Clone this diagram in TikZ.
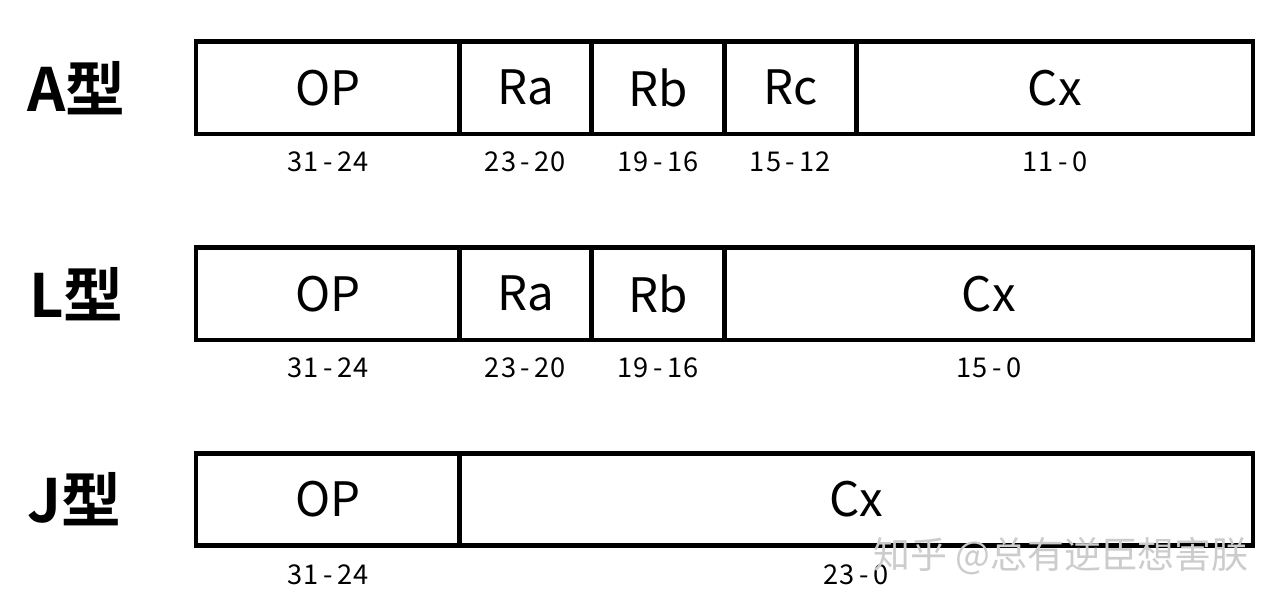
\documentclass[tikz,border=0pt]{standalone}
\usepackage{fontspec}
\setmainfont{Noto Sans CJK SC}[BoldFont={Noto Sans CJK SC Bold}]
\newfontfamily\bitfont{Noto Sans CJK SC}[LetterSpace=4]
\tikzset{
  field/.style={draw, line width=2.6pt, inner sep=0pt, minimum height=1.85cm, font=\fontsize{27}{29}\selectfont},
  bits/.style={font=\bitfont\fontsize{15.5}{17}\selectfont},
  kind/.style={anchor=west, inner sep=0pt, font=\bfseries\fontsize{34}{36}\selectfont},
  wmark/.style={text=gray!40, font=\fontsize{21}{23}\selectfont}
}
\begin{document}
\begin{tikzpicture}[x=0.02cm, y=-0.02cm]
\useasboundingbox (0,0) rectangle (1286,608);

% A-type
\node [kind] (kA) at (27,88) {A型};
\foreach \l/\r/\t/\b [count=\i] in {196/459.5/OP/31\,-\,24, 459.5/591.5/Ra/23\,-\,20, 591.5/724.5/Rb/19\,-\,16, 724.5/856.5/Rc/15\,-\,12, 856.5/1253/Cx/11\,-\,0}
  \node [field, minimum width={(\r-\l)*0.02cm}] (a\i) at ({(\l+\r)/2},87.75) {\t}
    node [bits] (ab\i) at ({(\l+\r)/2},162) {\b};

% L-type
\node [kind] (kL) at (29,294) {L型};
\foreach \l/\r/\t/\b [count=\i] in {196/459.5/OP/31\,-\,24, 459.5/591.5/Ra/23\,-\,20, 591.5/724.5/Rb/19\,-\,16, 724.5/1253/Cx/15\,-\,0}
  \node [field, minimum width={(\r-\l)*0.02cm}] (l\i) at ({(\l+\r)/2},293.75) {\t}
    node [bits] (lb\i) at ({(\l+\r)/2},368) {\b};

% J-type
\node [kind] (kJ) at (27,499) {J型};
\foreach \l/\r/\t/\b [count=\i] in {196/459.5/OP/31\,-\,24, 459.5/1253/Cx/23\,-\,0}
  \node [field, minimum width={(\r-\l)*0.02cm}] (j\i) at ({(\l+\r)/2},499.5) {\t}
    node [bits] (jb\i) at ({(\l+\r)/2},575) {\b};

\node [wmark] (wm) at (1061,556) {知乎 @总有逆臣想害朕};
\end{tikzpicture}
\end{document}
